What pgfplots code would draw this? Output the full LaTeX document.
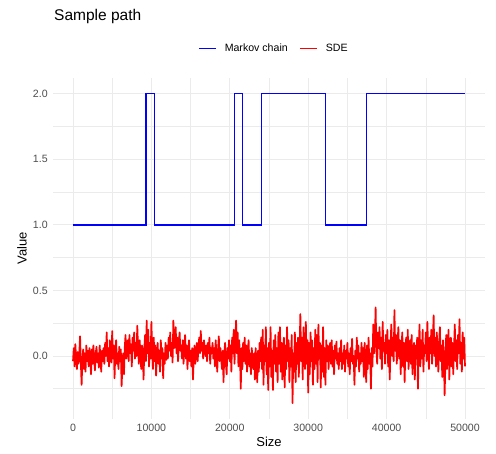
\documentclass[border=0pt]{standalone}
\usepackage{fontspec}
\setmainfont{Liberation Sans}
\usepackage{pgfplots}
\pgfplotsset{compat=1.18}
\definecolor{gridc}{HTML}{EBEBEB}
\definecolor{tickc}{HTML}{4D4D4D}
\begin{document}
\begin{tikzpicture}
\useasboundingbox (0,0) rectangle (496bp,454bp);
\node[anchor=base west, inner sep=0pt, font=\fontsize{15.5bp}{18bp}\selectfont] at (54bp,433bp) {Sample path};
\begin{axis}[
  at={(53.4bp,35.4bp)}, anchor=south west,
  scale only axis, width=431.2bp, height=340.2bp,
  xmin=-2500, xmax=52500, ymin=-0.478, ymax=2.118,
  axis line style={draw=none},
  major tick length=0pt, minor tick length=0pt,
  tick style={draw=none},
  xtick={0,10000,20000,30000,40000,50000},
  minor xtick={5000,15000,25000,35000,45000},
  ytick={0,0.5,1,1.5,2},
  minor ytick={-0.25,0.25,0.75,1.25,1.75},
  grid=both,
  major grid style={color=gridc, line width=0.9bp},
  minor grid style={color=gridc, line width=0.45bp},
  scaled x ticks=false,
  /pgf/number format/assume math mode=true,
  xticklabel style={/pgf/number format/1000 sep={}, inner sep=0pt, anchor=north, yshift=-5.4bp, font=\fontsize{10.6bp}{12bp}\selectfont, text=tickc},
  yticklabel style={/pgf/number format/fixed, /pgf/number format/fixed zerofill, /pgf/number format/precision=1, inner sep=0pt, anchor=east, xshift=-5.5bp, font=\fontsize{10.6bp}{12bp}\selectfont, text=tickc},
  xlabel={Size},
  ylabel={Value},
  xlabel style={at={(axis description cs:0.5,0)}, anchor=north, inner sep=0pt, yshift=-18.4bp, font=\fontsize{13bp}{15bp}\selectfont},
  ylabel style={at={(axis description cs:0,0.5)}, anchor=south, inner sep=0pt, yshift=26.4bp, font=\fontsize{13bp}{15bp}\selectfont},
  legend columns=2,
  legend style={at={(0.512,1.087)}, anchor=center, draw=none, fill=none, font=\fontsize{10.6bp}{12bp}\selectfont, /tikz/every odd column/.append style={column sep=6bp}, /tikz/every even column/.append style={column sep=10bp}},
]
\addplot[const plot, color=blue, line width=1.2bp, legend image post style={line width=1.1bp}] coordinates {
(0,1) (9300,2) (10400,1) (20600,2) (21600,1) (24000,2) (32200,1) (37400,2) (50000,2)
};
\addlegendentry{Markov chain}
\addplot[color=red, line width=1.7bp, line join=round, legend image post style={line width=1.1bp}] coordinates {
(0,-0.04) (100,0.06) (200,-0.08) (300,0.09) (400,-0.02) (500,-0.10) (600,0.03) (700,-0.06) (800,0.01) (900,0.15)
(1000,-0.05) (1100,-0.22) (1200,-0.02) (1300,0.05) (1400,-0.10) (1500,0.02) (1600,-0.12) (1700,0.08) (1800,-0.04) (1900,0.04)
(2000,-0.08) (2100,0.06) (2200,-0.02) (2300,-0.14) (2400,0.05) (2500,-0.06) (2600,0.08) (2700,-0.03) (2800,-0.11) (2900,0.02)
(3000,0.07) (3100,-0.05) (3200,0.02) (3300,-0.09) (3400,0.08) (3500,-0.01) (3600,-0.12) (3700,0.04) (3800,-0.04) (3900,0.06)
(4000,-0.06) (4100,0.10) (4200,0.00) (4300,0.18) (4400,-0.04) (4500,0.06) (4600,-0.08) (4700,0.12) (4800,0.02) (4900,-0.05)
(5000,0.19) (5100,-0.02) (5200,0.08) (5300,-0.17) (5400,0.04) (5500,0.12) (5600,-0.06) (5700,0.02) (5800,-0.10) (5900,0.07)
(6000,-0.04) (6100,0.05) (6200,-0.23) (6300,-0.08) (6400,0.02) (6500,-0.14) (6600,0.06) (6700,0.16) (6800,-0.02) (6900,0.08)
(7000,0.12) (7100,-0.04) (7200,0.16) (7300,0.02) (7400,0.09) (7500,-0.08) (7600,0.14) (7700,0.04) (7800,0.18) (7900,-0.02)
(8000,0.10) (8100,0.00) (8200,0.23) (8300,0.06) (8400,-0.06) (8500,0.12) (8600,0.02) (8700,-0.10) (8800,0.08) (8900,0.04)
(9000,-0.18) (9100,0.06) (9200,0.16) (9300,-0.04) (9400,0.27) (9500,0.02) (9600,0.20) (9700,-0.08) (9800,0.10) (9900,-0.02)
(10000,0.26) (10100,0.04) (10200,-0.10) (10300,0.14) (10400,-0.04) (10500,0.08) (10600,-0.15) (10700,0.02) (10800,0.10) (10900,-0.06)
(11000,0.04) (11100,-0.12) (11200,0.12) (11300,-0.02) (11400,0.06) (11500,-0.17) (11600,0.02) (11700,-0.06) (11800,0.10) (11900,-0.03)
(12000,0.08) (12100,-0.02) (12200,0.14) (12300,0.04) (12400,0.18) (12500,0.00) (12600,0.10) (12700,-0.05) (12800,0.27) (12900,0.06)
(13000,0.12) (13100,0.22) (13200,0.02) (13300,0.14) (13400,-0.04) (13500,0.10) (13600,0.18) (13700,0.04) (13800,0.08) (13900,-0.02)
(14000,0.12) (14100,-0.06) (14200,0.06) (14300,0.16) (14400,-0.02) (14500,0.08) (14600,-0.10) (14700,0.04) (14800,0.12) (14900,-0.04)
(15000,0.04) (15100,-0.08) (15200,0.06) (15300,-0.18) (15400,-0.02) (15500,0.08) (15600,-0.06) (15700,0.02) (15800,0.10) (15900,-0.04)
(16000,0.06) (16100,0.14) (16200,0.02) (16300,0.19) (16400,0.04) (16500,0.10) (16600,-0.02) (16700,0.12) (16800,0.06) (16900,0.00)
(17000,0.08) (17100,-0.04) (17200,0.10) (17300,0.02) (17400,0.14) (17500,-0.06) (17600,0.06) (17700,0.02) (17800,0.10) (17900,-0.02)
(18000,0.06) (18100,-0.08) (18200,0.12) (18300,0.00) (18400,-0.12) (18500,0.05) (18600,0.15) (18700,-0.04) (18800,0.06) (18900,-0.02)
(19000,-0.10) (19100,0.04) (19200,-0.20) (19300,0.02) (19400,0.10) (19500,-0.06) (19600,-0.14) (19700,0.06) (19800,-0.02) (19900,0.12)
(20000,-0.04) (20100,0.08) (20200,-0.12) (20300,0.14) (20400,0.02) (20500,0.20) (20600,-0.06) (20700,0.10) (20800,0.27) (20900,0.02)
(21000,0.18) (21100,-0.08) (21200,0.12) (21300,0.00) (21400,-0.25) (21500,0.06) (21600,-0.10) (21700,0.10) (21800,-0.04) (21900,0.14)
(22000,-0.06) (22100,0.08) (22200,-0.12) (22300,0.04) (22400,0.12) (22500,-0.08) (22600,0.02) (22700,-0.14) (22800,0.06) (22900,-0.02)
(23000,-0.10) (23100,0.02) (23200,-0.18) (23300,0.06) (23400,-0.06) (23500,-0.20) (23600,0.04) (23700,-0.12) (23800,0.10) (23900,-0.04)
(24000,0.14) (24100,-0.10) (24200,0.20) (24300,-0.22) (24400,0.08) (24500,-0.04) (24600,0.22) (24700,-0.14) (24800,0.06) (24900,-0.26)
(25000,0.10) (25100,-0.08) (25200,0.22) (25300,-0.16) (25400,0.04) (25500,-0.26) (25600,0.12) (25700,-0.06) (25800,0.16) (25900,-0.12)
(26000,0.06) (26100,-0.20) (26200,0.18) (26300,-0.06) (26400,0.22) (26500,-0.12) (26600,0.10) (26700,-0.18) (26800,0.04) (26900,0.14)
(27000,-0.24) (27100,0.08) (27200,-0.10) (27300,0.22) (27400,-0.04) (27500,0.12) (27600,-0.20) (27700,0.06) (27800,-0.08) (27900,0.16)
(28000,-0.36) (28100,0.02) (28200,-0.12) (28300,0.18) (28400,-0.20) (28500,0.10) (28600,-0.06) (28700,0.14) (28800,-0.16) (28900,0.04)
(29000,0.32) (29100,-0.04) (29200,0.14) (29300,-0.18) (29400,0.22) (29500,0.02) (29600,-0.10) (29700,0.26) (29800,-0.06) (29900,0.12)
(30000,-0.28) (30100,0.10) (30200,-0.14) (30300,0.18) (30400,-0.04) (30500,0.12) (30600,-0.22) (30700,0.06) (30800,-0.10) (30900,0.20)
(31000,-0.06) (31100,0.16) (31200,-0.20) (31300,0.24) (31400,-0.02) (31500,0.10) (31600,-0.24) (31700,0.08) (31800,-0.12) (31900,0.22)
(32000,-0.16) (32100,0.06) (32200,-0.22) (32300,0.12) (32400,-0.04) (32500,0.08) (32600,-0.10) (32700,0.04) (32800,0.10) (32900,-0.06)
(33000,0.12) (33100,-0.08) (33200,0.04) (33300,-0.14) (33400,0.08) (33500,-0.02) (33600,0.11) (33700,-0.06) (33800,0.02) (33900,-0.10)
(34000,0.06) (34100,-0.04) (34200,0.12) (34300,-0.10) (34400,0.02) (34500,-0.06) (34600,0.08) (34700,-0.12) (34800,0.04) (34900,-0.02)
(35000,0.10) (35100,-0.08) (35200,0.02) (35300,-0.14) (35400,0.06) (35500,-0.04) (35600,0.13) (35700,-0.06) (35800,0.00) (35900,-0.22)
(36000,0.04) (36100,-0.08) (36200,0.14) (36300,-0.02) (36400,0.08) (36500,-0.12) (36600,0.02) (36700,-0.06) (36800,0.10) (36900,-0.04)
(37000,0.06) (37100,-0.16) (37200,0.10) (37300,-0.04) (37400,-0.20) (37500,0.08) (37600,-0.10) (37700,0.14) (37800,-0.06) (37900,0.02)
(38000,-0.25) (38100,0.06) (38200,-0.08) (38300,0.24) (38400,0.02) (38500,0.12) (38600,0.37) (38700,0.04) (38800,-0.06) (38900,0.18)
(39000,0.06) (39100,0.22) (39200,-0.02) (39300,0.14) (39400,-0.10) (39500,0.26) (39600,0.04) (39700,0.10) (39800,-0.06) (39900,0.16)
(40000,0.02) (40100,0.20) (40200,-0.08) (40300,0.12) (40400,-0.18) (40500,0.08) (40600,0.24) (40700,0.00) (40800,0.14) (40900,-0.04)
(41000,0.35) (41100,0.04) (41200,0.16) (41300,-0.06) (41400,0.10) (41500,0.22) (41600,-0.02) (41700,0.12) (41800,-0.14) (41900,0.06)
(42000,0.18) (42100,-0.08) (42200,0.10) (42300,-0.20) (42400,0.06) (42500,0.14) (42600,-0.04) (42700,0.20) (42800,-0.10) (42900,0.04)
(43000,0.12) (43100,-0.06) (43200,0.16) (43300,-0.14) (43400,0.04) (43500,0.10) (43600,-0.18) (43700,0.08) (43800,-0.02) (43900,0.14)
(44000,-0.25) (44100,0.06) (44200,0.24) (44300,-0.08) (44400,0.12) (44500,-0.02) (44600,0.20) (44700,-0.12) (44800,0.08) (44900,0.02)
(45000,0.18) (45100,-0.04) (45200,0.26) (45300,0.06) (45400,-0.10) (45500,0.14) (45600,0.02) (45700,0.20) (45800,-0.06) (45900,0.12)
(46000,0.31) (46100,0.00) (46200,0.14) (46300,-0.08) (46400,0.18) (46500,0.04) (46600,-0.12) (46700,0.10) (46800,0.22) (46900,-0.04)
(47000,0.08) (47100,-0.16) (47200,0.12) (47300,0.02) (47400,-0.30) (47500,-0.06) (47600,0.16) (47700,-0.10) (47800,0.06) (47900,0.20)
(48000,-0.18) (48100,0.04) (48200,0.14) (48300,-0.08) (48400,0.10) (48500,-0.14) (48600,0.06) (48700,0.24) (48800,-0.04) (48900,0.12)
(49000,-0.10) (49100,0.16) (49200,0.02) (49300,0.28) (49400,-0.06) (49500,0.10) (49600,-0.12) (49700,0.18) (49800,-0.02) (49900,0.14)
(50000,-0.08)
};
\addlegendentry{SDE}
\end{axis}
\end{tikzpicture}
\end{document}
